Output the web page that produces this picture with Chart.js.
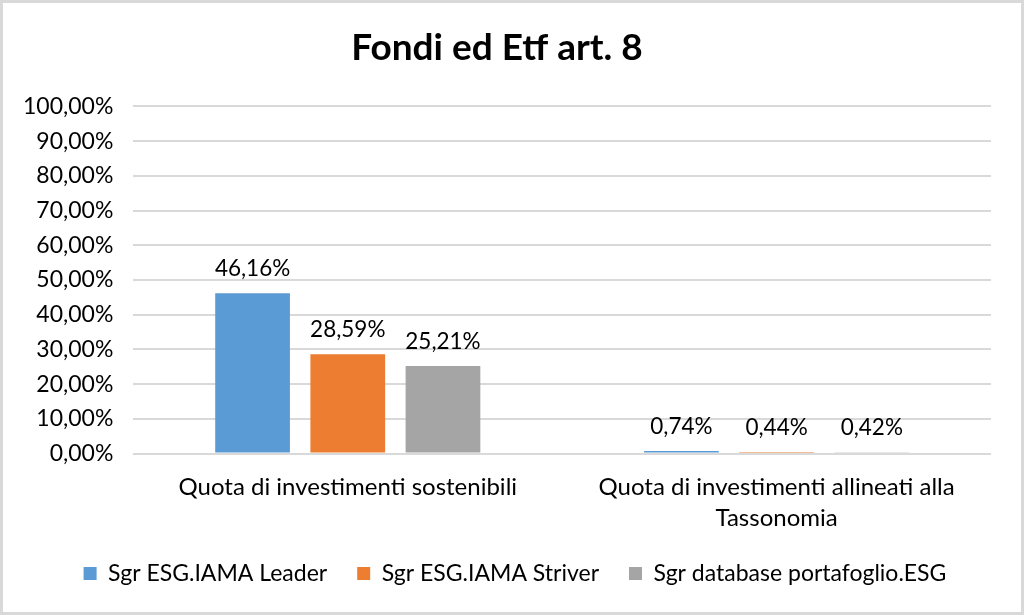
<!DOCTYPE html>
<html>
<head>
<meta charset="utf-8">
<script src="https://cdn.jsdelivr.net/npm/chart.js@4/dist/chart.umd.min.js"></script>
<style>
    html, body { margin: 0; padding: 0; background: #fff; }
    #wrap { width: 1024px; height: 615px; box-sizing: border-box; border: 3px solid #d9d9d9; background: #fff; }
</style>
</head>
<body>
<div id="wrap"><canvas id="myChart"></canvas></div>
<script>
const categories = ['Quota di investimenti sostenibili', ['Quota di investimenti allineati alla', 'Tassonomia']];
const leader = [46.16, 0.74];
const striver = [28.59, 0.44];
const database = [25.21, 0.42];
const yTicks = [0, 10, 20, 30, 40, 50, 60, 70, 80, 90, 100];

function pct(v) {
    return v.toFixed(2).replace('.', ',') + '%';
}

// etichette sopra le barre
const barLabels = {
    id: 'barLabels',
    afterLayout(chart) {
        // legenda un po' piu vicina alle categorie e centrata
        chart.legend.top -= 12;
        chart.legend.bottom -= 12;
        chart.legend.left += 18;
        chart.legend.right += 18;
    },
    afterDatasetsDraw(chart) {
        let ctx = chart.ctx;
        ctx.save();
        ctx.font = '22.5px Lato';
        ctx.fillStyle = '#000';
        ctx.textAlign = 'center';
        ctx.textBaseline = 'bottom';
        chart.data.datasets.forEach((ds, i) => {
            chart.getDatasetMeta(i).data.forEach((bar, j) => {
                ctx.fillText(pct(ds.data[j]), bar.x, bar.y - 13);
            });
        });
        ctx.restore();
    }
};

var ctx = document.getElementById('myChart').getContext('2d');
var chart = new Chart(ctx, {
    type: 'bar',
    data: {
        labels: categories,
        datasets: [
            { label: 'Sgr ESG.IAMA Leader', data: leader, backgroundColor: '#5b9bd5' },
            { label: 'Sgr ESG.IAMA Striver', data: striver, backgroundColor: '#ed7d31' },
            { label: 'Sgr database portafoglio.ESG', data: database, backgroundColor: '#a5a5a5' }
        ]
    },
    options: {
        responsive: true,
        maintainAspectRatio: false,
        animation: false,
        categoryPercentage: 0.666,
        barPercentage: 0.785,
        layout: { padding: { left: 0, right: 30, top: 10, bottom: 5 } },
        plugins: {
            title: {
                display: true,
                text: 'Fondi ed Etf art. 8',
                color: '#000',
                font: { family: 'Lato', size: 37, weight: 'bold' },
                padding: { top: 13, bottom: 36 }
            },
            legend: {
                position: 'bottom',
                labels: {
                    color: '#000',
                    font: { family: 'Lato', size: 23 },
                    boxWidth: 13,
                    boxHeight: 13,
                    padding: 30
                }
            },
            tooltip: { enabled: false }
        },
        scales: {
            x: {
                grid: { display: false },
                border: { display: false },
                ticks: { color: '#000', font: { family: 'Lato', size: 24, lineHeight: 1.3 }, padding: 10 }
            },
            y: {
                min: 0,
                max: 100,
                afterBuildTicks: (axis) => { axis.ticks = yTicks.map(v => ({ value: v })); },
                grid: { color: '#d9d9d9', lineWidth: 2, drawTicks: false },
                border: { display: false },
                ticks: {
                    color: '#000',
                    font: { family: 'Lato', size: 23 },
                    padding: 20,
                    callback: (v) => pct(v)
                }
            }
        }
    },
    plugins: [barLabels]
});
</script>
</body>
</html>
